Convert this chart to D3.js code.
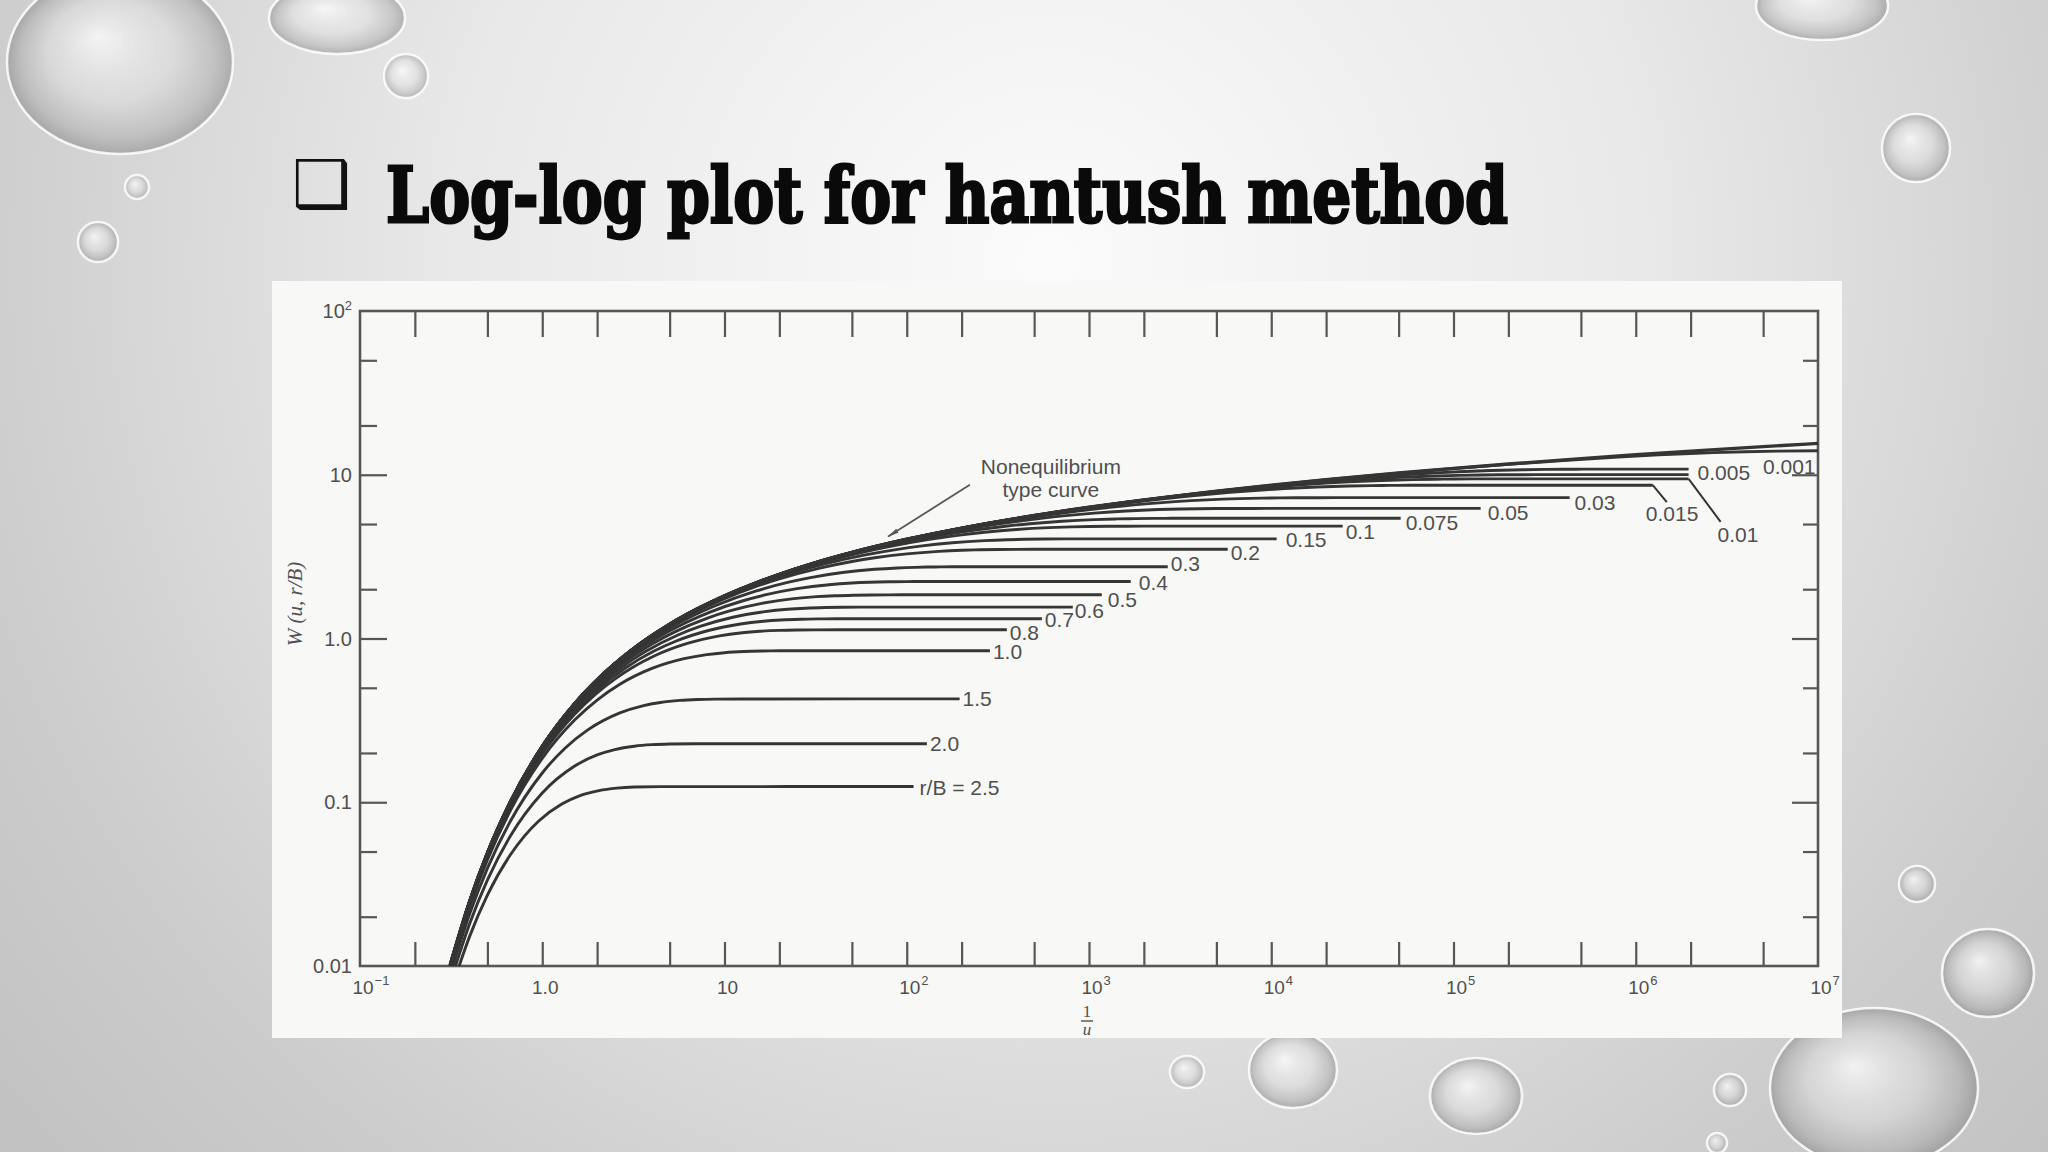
<!DOCTYPE html>
<html>
<head>
<meta charset="utf-8">
<script src="https://cdn.jsdelivr.net/npm/d3@7"></script>
<style>
html, body { margin: 0; padding: 0; background: #e4e4e4; }
svg { display: block; }
</style>
</head>
<body>
<svg id="chart" width="2048" height="1152"></svg>
<script>
// ---- data: [1/u, W(u, r/B)] ----
var theis = [[0.3125,0.01015],[0.4,0.02491],[0.5,0.0489],[0.667,0.10002],[1,0.21938],[1.5,0.3982],[2,0.5598],[3,0.829],[5,1.2227],[7,1.5064],[10,1.8229],[15,2.1965],[20,2.4679],[30,2.857],[50,3.3547],[100,4.0379],[200,4.7261],[500,5.6394],[1000,6.3315],[2000,7.0242],[5000,7.9405],[10000,8.6332],[20000,9.3263],[50000,10.2426],[100000,10.9357],[200000,11.6289],[500000,12.5451],[1000000,13.2383],[2000000,13.9314],[5000000,14.8477],[10000000,15.5409]];

var rb2_5 = [[0.3125,0.00685],[0.4,0.01522],[0.5,0.02707],[0.667,0.04759],[0.8,0.06235],[0.96,0.07711],[1.28,0.09763],[1.6,0.10948],[2.048,0.11785],[2.56,0.122],[3.2,0.1239],[4.48,0.1246],[109,0.1247]];
var rb2_0 = [[0.3125,0.00788],[0.4,0.01815],[0.5,0.03343],[0.667,0.06191],[1,0.11389],[1.5,0.1659],[2,0.1944],[2.5,0.2097],[3.2,0.2199],[4,0.2247],[5,0.2268],[7,0.2277],[129,0.2278]];
var rb1_5 = [[0.3125,0.0088],[0.4,0.02084],[0.5,0.03945],[0.667,0.07622],[1,0.15092],[1.333,0.21381],[1.778,0.2767],[2.667,0.3514],[3.556,0.3882],[4.444,0.4068],[5.689,0.4188],[7.11,0.4242],[8.9,0.4265],[12.4,0.4275],[195,0.4276]];
var rb1_0 = [[0.3125,0.009525],[0.4,0.02301],[0.5,0.04444],[0.667,0.08859],[1,0.18547],[1.5,0.31638],[2,0.42102],[2.667,0.5256],[4,0.6565],[6,0.7534],[8,0.7976],[10,0.819],[12.8,0.8325],[16,0.8384],[20,0.8409],[28,0.8419],[286,0.842]];
var rb0_8 = [[0.3125,0.009745],[0.4,0.02368],[0.5,0.04599],[0.667,0.09254],[1,0.19697],[1.5,0.34342],[2,0.46578],[2.5,0.56535],[3.125,0.6649],[4.167,0.7873],[6.25,0.9337],[9.375,1.0382],[12.5,1.0847],[15.6,1.107],[20,1.121],[25,1.127],[31.25,1.1296],[43.75,1.1306],[354,1.1307]];
var rb0_7 = [[0.3125,0.009838],[0.4,0.02396],[0.5,0.04666],[0.667,0.09424],[1,0.20199],[1.5,0.35545],[2,0.48604],[2.857,0.66052],[4.082,0.835],[5.44,0.9656],[8.163,1.119],[12.24,1.2268],[16.33,1.2743],[20.4,1.297],[26.1,1.3112],[32.65,1.3173],[40.8,1.3199],[57,1.3209],[551,1.321]];
var rb0_6 = [[0.3125,0.00992],[0.4,0.02421],[0.5,0.04724],[0.667,0.09573],[1,0.20645],[1.5,0.36626],[2,0.50444],[3,0.71989],[3.333,0.77752],[3.704,0.8351],[5.556,1.0506],[7.41,1.1887],[11.11,1.3486],[16.67,1.4593],[22.2,1.5078],[27.8,1.5308],[35.6,1.5451],[44.4,1.5513],[55.6,1.5539],[77.8,1.5549],[815,1.555]];
var rb0_5 = [[0.3125,0.00999],[0.4,0.02442],[0.5,0.04774],[0.667,0.09702],[1,0.21031],[1.5,0.3757],[2,0.52065],[3,0.75125],[4,0.92442],[5.333,1.0976],[8,1.3282],[10.67,1.4731],[16,1.6385],[24,1.7518],[32,1.8011],[40,1.8244],[51.2,1.8388],[64,1.8451],[80,1.8477],[112,1.8487],[1175,1.8488]];
var rb0_4 = [[0.3125,0.01005],[0.4,0.0246],[0.5,0.04816],[0.667,0.09809],[1,0.21353],[1.5,0.38363],[2,0.53437],[3,0.77817],[5,1.11453],[8.33,1.4509],[12.5,1.6947],[16.67,1.8455],[25,2.0156],[37.5,2.131],[50,2.1809],[62.5,2.2045],[80,2.2191],[100,2.2254],[125,2.228],[175,2.229],[1694,2.2291]];
var rb0_3 = [[0.3125,0.01009],[0.4,0.02473],[0.5,0.04848],[0.667,0.09893],[1,0.21607],[1.5,0.38993],[2,0.54532],[3,0.79992],[5,1.16027],[6.667,1.37246],[8.89,1.5846],[14.8,1.945],[22.2,2.1996],[29.6,2.355],[44.4,2.5288],[66.7,2.646],[88.9,2.6964],[111,2.7202],[142,2.7348],[178,2.7412],[222,2.7438],[311,2.7448],[2704,2.7449]];
var rb0_2 = [[0.3125,0.01012],[0.4,0.02483],[0.5,0.04871],[0.667,0.09953],[1,0.2179],[1.5,0.3945],[2,0.55331],[3,0.81592],[5,1.19443],[7,1.46172],[10,1.7527],[14.29,2.0437],[20,2.311],[33.3,2.6895],[50,2.9521],[66.7,3.1109],[100,3.2875],[150,3.4059],[200,3.4567],[250,3.4806],[320,3.4953],[400,3.5017],[500,3.5043],[700,3.5053],[5768,3.5054]];
var rb0_15 = [[0.3125,0.01014],[0.4,0.02487],[0.5,0.04879],[0.667,0.09975],[1,0.21855],[1.5,0.39611],[2,0.55614],[3,0.82161],[5,1.20669],[7,1.48105],[10,1.78291],[13.33,2.03003],[17.78,2.2772],[25.4,2.5791],[35.6,2.8534],[59.3,3.2385],[88.9,3.504],[118.5,3.664],[177.8,3.8416],[266.7,3.9603],[355.6,4.0113],[444,4.0352],[569,4.05],[711,4.0564],[889,4.059],[10710,4.0601]];
var rb0_1 = [[0.3125,0.01015],[0.4,0.02491],[0.5,0.0489],[0.667,0.1],[1,0.21901],[1.5,0.39727],[2,0.5582],[3,0.8257],[5,1.2155],[7,1.4951],[10,1.805],[15,2.1672],[20,2.4271],[26.7,2.6869],[40,3.0491],[57.1,3.359],[80,3.6386],[133,4.0284],[200,4.2959],[267,4.4568],[400,4.6351],[600,4.7543],[800,4.8054],[1000,4.8293],[1280,4.844],[1600,4.8503],[2000,4.853],[2800,4.854],[24660,4.8541]];
var rb0_075 = [[0.3125,0.01015],[0.4,0.02491],[0.5,0.0489],[0.667,0.1],[1,0.2192],[1.5,0.3977],[2,0.5589],[3,0.8271],[5,1.2187],[7,1.5],[10,1.8127],[15,2.18],[20,2.4448],[26.67,2.7114],[35.6,2.978],[47.4,3.2428],[71.1,3.6101],[101.6,3.9228],[142.2,4.2041],[237,4.5957],[355.6,4.8639],[474,5.0251],[711,5.2036],[1067,5.3229],[1422,5.374],[1778,5.3979],[2276,5.4127],[2844,5.419],[3556,5.4217],[4978,5.4227],[51300,5.4228]];
var rb0_05 = [[0.3125,0.01015],[0.4,0.02491],[0.5,0.0489],[0.667,0.1],[1,0.2193],[1.5,0.398],[2,0.5594],[3,0.8282],[5,1.2209],[7,1.5036],[10,1.8184],[15,2.1891],[20,2.4576],[30,2.8407],[40,3.1142],[53.3,3.3878],[80,3.7709],[106.7,4.0394],[160,4.4101],[228.6,4.7249],[320,5.0076],[533,5.4003],[800,5.6693],[1067,5.8305],[1600,6.0092],[2400,6.1285],[3200,6.1796],[4000,6.2036],[5120,6.2183],[6400,6.2247],[8000,6.2274],[11200,6.2284],[140900,6.2285]];
var rb0_03 = [[0.3125,0.01015],[0.4,0.02491],[0.5,0.0489],[0.667,0.1],[1,0.2194],[1.5,0.3981],[2,0.5596],[3,0.8287],[5,1.2221],[7,1.5054],[10,1.8213],[15,2.1938],[20,2.4642],[30,2.8511],[50,3.3444],[66.7,3.6235],[88.9,3.9026],[148,4.3959],[222,4.7828],[296,5.0532],[444,5.4257],[635,5.7416],[889,6.0249],[1481,6.4183],[2222,6.6874],[2963,6.8491],[4444,7.0276],[6667,7.147],[8889,7.1981],[11111,7.2221],[14222,7.2369],[17778,7.2432],[22222,7.2459],[31111,7.2469],[433600,7.247]];
var rb0_015 = [[0.3125,0.01015],[0.4,0.02491],[0.5,0.0489],[0.667,0.1],[1,0.2194],[1.5,0.3982],[2,0.5598],[3,0.829],[5,1.2226],[7,1.5062],[10,1.8225],[15,2.1962],[20,2.4675],[30,2.8565],[50,3.3521],[100,4.0326],[133.3,4.316],[177.8,4.5994],[355.6,5.2799],[592,5.7765],[889,6.165],[1778,6.8095],[3556,7.4096],[5926,7.8031],[8889,8.0723],[11852,8.234],[17778,8.4126],[26667,8.532],[35556,8.5831],[44444,8.6071],[56889,8.6218],[71111,8.6282],[88889,8.6309],[124444,8.632],[1240000,8.632]];
var rb0_01 = [[0.3125,0.01015],[0.4,0.02491],[0.5,0.0489],[0.667,0.1],[1,0.2194],[1.5,0.3982],[2,0.5598],[3,0.829],[5,1.2227],[7,1.5063],[10,1.8227],[15,2.1963],[20,2.4677],[30,2.8567],[50,3.3535],[100,4.0355],[200,4.7212],[400,5.407],[800,6.0889],[1333,6.586],[2000,6.975],[2667,7.2463],[4000,7.6198],[8000,8.2199],[13333,8.6135],[20000,8.8827],[26667,9.0445],[40000,9.2231],[60000,9.3425],[80000,9.3936],[100000,9.4176],[128000,9.4324],[160000,9.4387],[200000,9.4414],[280000,9.4424],[1950000,9.4425]];
var rb0_0075 = [[0.3125,0.01015],[0.4,0.02491],[0.5,0.0489],[0.667,0.1],[1,0.2194],[1.5,0.3982],[2,0.5598],[3,0.829],[5,1.2227],[7,1.5064],[10,1.8228],[15,2.1964],[20,2.4678],[30,2.8568],[50,3.354],[100,4.0365],[200,4.7255],[266.7,5.0088],[355.6,5.2921],[711,5.9811],[1422,6.6636],[2370,7.1611],[3556,7.55],[4741,7.8213],[7111,8.1948],[14222,8.795],[23704,9.1886],[35556,9.4578],[47407,9.6196],[71111,9.7982],[106667,9.9176],[142222,9.9687],[177778,9.9927],[227556,10.0075],[284444,10.0138],[355556,10.0165],[497778,10.0175],[1950000,10.0176]];
var rb0_005 = [[0.3125,0.01015],[0.4,0.02491],[0.5,0.0489],[0.667,0.1],[1,0.2194],[1.5,0.3982],[2,0.5598],[3,0.829],[5,1.2227],[7,1.5064],[10,1.8229],[15,2.1965],[20,2.4679],[30,2.857],[50,3.3546],[100,4.0376],[200,4.7249],[400,5.4143],[800,6.1037],[1600,6.7913],[3200,7.4742],[5333,7.9716],[8000,8.3609],[10667,8.6321],[16000,9.0058],[32000,9.6059],[53333,9.9996],[80000,10.2688],[106667,10.4304],[160000,10.6092],[240000,10.7286],[320000,10.7797],[400000,10.8037],[512000,10.8185],[640000,10.8248],[800000,10.8275],[1120000,10.8285],[1950000,10.8286]];
var rb0_001 = [[0.3125,0.01015],[0.4,0.02491],[0.5,0.0489],[0.667,0.1],[1,0.2194],[1.5,0.3982],[2,0.5598],[3,0.829],[5,1.2227],[7,1.5064],[10,1.8229],[15,2.1965],[20,2.4679],[30,2.857],[50,3.3547],[100,4.0379],[200,4.7261],[500,5.6394],[1000,6.3314],[2000,7.0237],[4000,7.7159],[8000,8.408],[20000,9.3213],[40000,10.0095],[80000,10.6927],[133333,11.1904],[200000,11.5795],[400000,12.2245],[800000,12.8247],[1333333,13.2184],[2000000,13.4876],[2666667,13.6492],[4000000,13.828],[6000000,13.9474],[10000000,14.0225]];

var curveSeries = [rb2_5, rb2_0, rb1_5, rb1_0, rb0_8, rb0_7, rb0_6, rb0_5, rb0_4, rb0_3, rb0_2, rb0_15, rb0_1, rb0_075, rb0_05, rb0_03, rb0_015, rb0_01, rb0_0075, rb0_005, rb0_001];
var curveLabels = ['r/B = 2.5', '2.0', '1.5', '1.0', '0.8', '0.7', '0.6', '0.5', '0.4', '0.3', '0.2', '0.15', '0.1', '0.075', '0.05', '0.03', '0.015', '0.01', '', '0.005', '0.001'];

var xLabelVals = [0.1, 1, 10, 100, 1e3, 1e4, 1e5, 1e6, 1e7];
var xLabelBase = ['10', '1.0', '10', '10', '10', '10', '10', '10', '10'];
var xLabelSup = ['\u22121', '', '', '2', '3', '4', '5', '6', '7'];
var yLabelVals = [0.01, 0.1, 1, 10, 100];
var yLabelBase = ['0.01', '0.1', '1.0', '10', '10'];
var yLabelSup = ['', '', '', '', '2'];

var titleText = 'Log-log plot for hantush method';
var noteLines = ['Nonequilibrium', 'type curve'];

// ---- layout ----
var svg = d3.select('#chart');
var plot = { left: 360, right: 1818, top: 311, bottom: 966 };
var ink = '#353535', axisInk = '#575757', textInk = '#4f4f4f';

var x = d3.scaleLog().domain([0.1, 1e7]).range([plot.left, plot.right]);
var y = d3.scaleLog().domain([0.01, 100]).range([plot.bottom, plot.top]);

var defs = svg.append('defs');

var bg = defs.append('radialGradient').attr('id', 'bg').attr('gradientUnits', 'userSpaceOnUse')
    .attr('cx', 1050).attr('cy', 260).attr('r', 1350);
bg.append('stop').attr('offset', '0').attr('stop-color', '#fbfbfb');
bg.append('stop').attr('offset', '0.45').attr('stop-color', '#e8e8e8');
bg.append('stop').attr('offset', '0.8').attr('stop-color', '#cdcdcd');
bg.append('stop').attr('offset', '1').attr('stop-color', '#c2c2c2');

var drop = defs.append('radialGradient').attr('id', 'drop')
    .attr('cx', '0.5').attr('cy', '0.5').attr('r', '0.5').attr('fx', '0.4').attr('fy', '0.36');
drop.append('stop').attr('offset', '0').attr('stop-color', '#ffffff').attr('stop-opacity', 0.75);
drop.append('stop').attr('offset', '0.55').attr('stop-color', '#e2e2e2').attr('stop-opacity', 0.45);
drop.append('stop').attr('offset', '0.85').attr('stop-color', '#a8a8a8').attr('stop-opacity', 0.45);
drop.append('stop').attr('offset', '1').attr('stop-color', '#7d7d7d').attr('stop-opacity', 0.5);

defs.append('clipPath').attr('id', 'plotClip').append('rect')
    .attr('x', plot.left).attr('y', plot.top)
    .attr('width', plot.right - plot.left).attr('height', plot.bottom - plot.top);

defs.append('marker').attr('id', 'arrow')
    .attr('viewBox', '0 0 12 6').attr('refX', 11).attr('refY', 3)
    .attr('markerWidth', 13).attr('markerHeight', 6).attr('markerUnits', 'userSpaceOnUse')
    .attr('orient', 'auto')
    .append('path').attr('d', 'M0,0.8 L12,3 L0,5.2 Z').attr('fill', axisInk);

svg.append('rect').attr('width', 2048).attr('height', 1152).attr('fill', 'url(#bg)');

// water drops on the slide background
var drops = [[120, 62, 113, 92], [337, 18, 68, 36], [406, 76, 22, 22], [137, 187, 12, 12], [98, 242, 20, 20],
    [1822, 6, 66, 34], [1916, 148, 34, 34], [1917, 884, 18, 18], [1988, 973, 46, 44], [1874, 1088, 104, 80],
    [1730, 1090, 16, 16], [1476, 1096, 46, 38], [1293, 1070, 44, 38], [1187, 1072, 17, 16], [1717, 1143, 10, 10]];
svg.append('g').selectAll('ellipse').data(drops).join('ellipse')
    .attr('cx', function (d) { return d[0]; }).attr('cy', function (d) { return d[1]; })
    .attr('rx', function (d) { return d[2]; }).attr('ry', function (d) { return d[3]; })
    .attr('fill', 'url(#drop)').attr('stroke', '#ffffff').attr('stroke-opacity', 0.85).attr('stroke-width', 2.5);

// title
svg.append('text').attr('x', 292).attr('y', 207)
    .attr('font-family', 'DejaVu Sans').attr('font-size', 66).attr('fill', '#111')
    .text('\u2751');
svg.append('text').attr('x', 386).attr('y', 222)
    .attr('font-family', 'DejaVu Serif').attr('font-weight', 'bold').attr('font-size', 76)
    .attr('fill', '#0a0a0a').attr('stroke', '#0a0a0a').attr('stroke-width', 3)
    .attr('textLength', 1122).attr('lengthAdjust', 'spacingAndGlyphs')
    .text(titleText);

// chart sheet
svg.append('rect').attr('x', 272).attr('y', 281).attr('width', 1570).attr('height', 757)
    .attr('fill', '#f8f8f6');

// ticks
var xTicks = [], yMajor = [], yMinor = [];
for (var k = -1; k < 7; k++) {
    [1, 2, 5].forEach(function (m) {
        var v = m * Math.pow(10, k);
        if (v > 0.1) xTicks.push(v);
    });
}
for (var j = -2; j < 2; j++) {
    if (j > -2) yMajor.push(Math.pow(10, j));
    yMinor.push(2 * Math.pow(10, j), 5 * Math.pow(10, j));
}

function styleAxis(g) {
    g.select('.domain').remove();
    g.selectAll('.tick line').attr('stroke', axisInk).attr('stroke-width', 2.2);
}
svg.append('g').attr('transform', 'translate(0,' + plot.bottom + ')')
    .call(d3.axisBottom(x).tickValues(xTicks).tickSize(-24).tickFormat('')).call(styleAxis);
svg.append('g').attr('transform', 'translate(0,' + plot.top + ')')
    .call(d3.axisTop(x).tickValues(xTicks).tickSize(-26).tickFormat('')).call(styleAxis);
svg.append('g').attr('transform', 'translate(' + plot.left + ',0)')
    .call(d3.axisLeft(y).tickValues(yMajor).tickSize(-27).tickFormat('')).call(styleAxis);
svg.append('g').attr('transform', 'translate(' + plot.left + ',0)')
    .call(d3.axisLeft(y).tickValues(yMinor).tickSize(-17).tickFormat('')).call(styleAxis);
svg.append('g').attr('transform', 'translate(' + plot.right + ',0)')
    .call(d3.axisRight(y).tickValues(yMajor).tickSize(-26).tickFormat('')).call(styleAxis);
svg.append('g').attr('transform', 'translate(' + plot.right + ',0)')
    .call(d3.axisRight(y).tickValues(yMinor).tickSize(-15).tickFormat('')).call(styleAxis);

svg.append('rect').attr('x', plot.left).attr('y', plot.top)
    .attr('width', plot.right - plot.left).attr('height', plot.bottom - plot.top)
    .attr('fill', 'none').attr('stroke', axisInk).attr('stroke-width', 2.6);

// tick labels
var font = 'Liberation Sans, Arial, sans-serif';
var xl = svg.append('g').attr('font-family', font).attr('font-size', 19).attr('fill', textInk);
xLabelVals.forEach(function (v, i) {
    var t = xl.append('text').attr('x', x(v) + 3).attr('y', 994)
        .attr('text-anchor', 'middle').text(xLabelBase[i]);
    if (xLabelSup[i]) {
        var w = t.node().getComputedTextLength();
        xl.append('text').attr('x', x(v) + 4 + w / 2).attr('y', 985)
            .attr('font-size', 13).text(xLabelSup[i]);
    }
});
var yl = svg.append('g').attr('font-family', font).attr('font-size', 20).attr('fill', textInk);
yLabelVals.forEach(function (v, i) {
    var t = yl.append('text').attr('x', 352).attr('y', y(v) + 7).attr('text-anchor', 'end');
    t.append('tspan').text(yLabelBase[i]);
    if (yLabelSup[i]) t.append('tspan').attr('dy', -8).attr('font-size', 13).text(yLabelSup[i]);
});

// axis titles
svg.append('text').attr('transform', 'translate(302,604) rotate(-90)')
    .attr('text-anchor', 'middle').attr('font-family', 'Liberation Serif, serif')
    .attr('font-style', 'italic').attr('font-size', 21).attr('fill', textInk)
    .text('W (u, r/B)');
var ut = svg.append('g').attr('font-family', 'Liberation Serif, serif').attr('fill', textInk)
    .attr('text-anchor', 'middle');
ut.append('text').attr('x', x(1e3) - 2).attr('y', 1017).attr('font-size', 17).text('1');
ut.append('line').attr('x1', x(1e3) - 8).attr('x2', x(1e3) + 4).attr('y1', 1021).attr('y2', 1021)
    .attr('stroke', textInk).attr('stroke-width', 1.4);
ut.append('text').attr('x', x(1e3) - 2).attr('y', 1035).attr('font-size', 17)
    .attr('font-style', 'italic').text('u');

// curves
var line = d3.line()
    .x(function (d) { return x(d[0]); })
    .y(function (d) { return y(d[1]); })
    .curve(d3.curveMonotoneX);

var curveG = svg.append('g').attr('clip-path', 'url(#plotClip)')
    .attr('fill', 'none').attr('stroke', ink).attr('stroke-width', 2.9)
    .attr('stroke-linejoin', 'round');
curveG.selectAll('path.leaky').data(curveSeries).join('path')
    .attr('class', 'leaky').attr('d', line);
curveG.append('path').datum(theis).attr('d', line).attr('stroke-width', 3.4);

// curve labels: offsets from the end of each line
var labelOffsets = {
    'r/B = 2.5': [6, 1], '2.0': [3, 0], '1.5': [3, 0], '1.0': [3, 1], '0.8': [3, 3],
    '0.7': [3, 1], '0.6': [2, 3], '0.5': [6, 5], '0.4': [8, 1], '0.3': [3, -3],
    '0.2': [3, 3], '0.15': [9, 1], '0.1': [3, 5], '0.075': [5, 4], '0.05': [7, 4],
    '0.03': [5, 5], '0.015': [-7, 28], '0.01': [29, 56], '0.005': [9, 3], '0.001': [-55, 16]
};
var leaders = { '0.015': [14, 17], '0.01': [32, 43] };

var lg = svg.append('g').attr('font-family', font).attr('font-size', 21).attr('fill', textInk);
curveSeries.forEach(function (pts, i) {
    var label = curveLabels[i];
    if (!label) return;
    var end = pts[pts.length - 1];
    var ex = x(end[0]), ey = y(end[1]);
    var off = labelOffsets[label];
    if (leaders[label]) {
        lg.append('line').attr('x1', ex).attr('y1', ey)
            .attr('x2', ex + leaders[label][0]).attr('y2', ey + leaders[label][1])
            .attr('stroke', ink).attr('stroke-width', 2);
    }
    lg.append('text').attr('x', ex + off[0]).attr('y', ey + off[1])
        .attr('dominant-baseline', 'central').text(label);
});

// nonequilibrium annotation
var tail = [222, 8.69], tip = [79, 4.19];
svg.append('line').attr('x1', x(tail[0])).attr('y1', y(tail[1]))
    .attr('x2', x(tip[0])).attr('y2', y(tip[1]))
    .attr('stroke', axisInk).attr('stroke-width', 1.8).attr('marker-end', 'url(#arrow)');
var ng = svg.append('g').attr('font-family', font).attr('font-size', 21).attr('fill', textInk)
    .attr('text-anchor', 'middle');
noteLines.forEach(function (s, i) {
    ng.append('text').attr('x', x(tail[0]) + 81).attr('y', y(tail[1]) - 18 + i * 23)
        .attr('dominant-baseline', 'central').text(s);
});
</script>
</body>
</html>
